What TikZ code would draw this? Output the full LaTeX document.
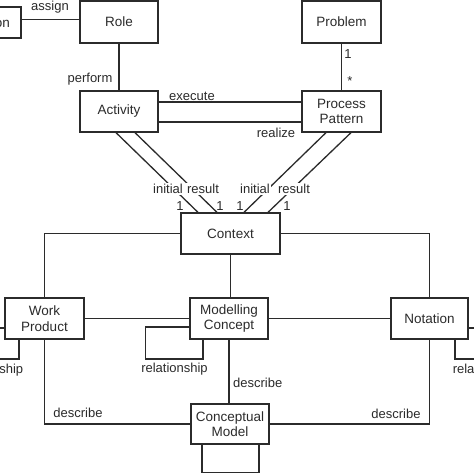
\documentclass[tikz,border=0pt]{standalone}
\usepackage{fontspec}
\setmainfont{Liberation Sans}
\definecolor{ink}{HTML}{2B2B2B}
\begin{document}
\begin{tikzpicture}[x=1pt,y=-1pt,
  box/.style={draw=ink, line width=1.3pt, rectangle, inner sep=0pt, align=center,
    font=\fontsize{13.5}{15.5}\selectfont, text=ink},
  lbl/.style={inner sep=1pt, font=\fontsize{13}{15}\selectfont, text=ink},
  cut/.style={lbl, fill=white},
  conn/.style={draw=ink, line width=1.3pt}]
\useasboundingbox (0,0) rectangle (474,474);
\clip (0,0) rectangle (474,474);
\fill[white] (0,0) rectangle (474,474);

% boxes
\node[box, minimum width=65pt, minimum height=31pt] (pers) at (-11.5,22.5) {Person};
\node[box, minimum width=78pt, minimum height=42pt] (role) at (119,22) {Role};
\node[box, minimum width=79pt, minimum height=42pt] (prob) at (341.5,22) {Problem};
\node[box, minimum width=78pt, minimum height=41pt] (act) at (119,111.5) {Activity};
\node[box, minimum width=79pt, minimum height=41pt] (pp) at (341.5,111.5) {Process\\Pattern};
\node[box, minimum width=99pt, minimum height=41pt] (ctx) at (230.5,233.5) {Context};
\node[box, minimum width=79pt, minimum height=41pt] (wp) at (44.5,318.5) {Work\\Product};
\node[box, minimum width=78pt, minimum height=41pt] (mc) at (229,318.5) {Modelling\\Concept};
\node[box, minimum width=77pt, minimum height=41pt] (nt) at (429.5,318.5) {Notation};
\node[box, minimum width=78pt, minimum height=40pt] (cm) at (230,424) {Conceptual\\Model};

% connectors
\draw[conn] ([yshift=3pt]pers.east) -- ([yshift=3pt]pers.east -| role.west);
\draw[conn] (role) -- (act);
\draw[conn] (prob) -- (pp);
\draw[conn] ([yshift=9.5pt]act.east) -- ([yshift=9.5pt]pp.west);
\draw[conn] ([yshift=-10.5pt]act.east) -- ([yshift=-10.5pt]pp.west);
\draw[conn] ([xshift=-3pt]act.south) -- ([xshift=-32.5pt]ctx.north);
\draw[conn] ([xshift=16pt]act.south) -- ([xshift=-13.5pt]ctx.north);
\draw[conn] ([xshift=-15.5pt]pp.south) -- ([xshift=13.5pt]ctx.north);
\draw[conn] ([xshift=9.5pt]pp.south) -- ([xshift=37.5pt]ctx.north);
\draw[conn] (ctx.west) -| (wp.north);
\draw[conn] (ctx.east) -| (nt.north);
\draw[conn] (ctx.south) -- (ctx.south |- mc.north);
\draw[conn] (wp.east) -- (mc.west);
\draw[conn] (mc.east) -- (nt.west);
\draw[conn] (mc.south) -- (mc.south |- cm.north);
\draw[conn] (wp.south) |- (cm.west);
\draw[conn] (nt.south) |- (cm.east);
% self loops
\draw[conn] ([yshift=-8.5pt]mc.west) -- ++(-44,0) -- ++(0,32) -| ([xshift=-26pt]mc.south);
\draw[conn] ([yshift=-9.5pt]wp.west) -- ++(-44,0) -- ++(0,31) -| ([xshift=-25.5pt]wp.south);
\draw[conn] ([yshift=-9.5pt]nt.east) -- ++(44,0) -- ++(0,31) -| ([xshift=25.5pt]nt.south);
\draw[conn] ([xshift=-28pt]cm.south) -- ++(0,28) -| ([xshift=29pt]cm.south);

% labels
\node[lbl] (l1) at (50,7) {assign};
\node[lbl] (l2) at (90,79) {perform};
\node[lbl] (l3) at (192,96) {execute};
\node[lbl] (l4) at (276,133) {realize};
\node[lbl] (l5) at (348,54) {1};
\node[lbl] (l6) at (350,81) {*};
\node[cut] (l7) at (168,189) {initial};
\node[cut] (l8) at (203,189) {result};
\node[cut] (l9) at (255,189) {initial};
\node[cut] (l10) at (294,189) {result};
\node[lbl] (l11) at (180,206) {1};
\node[lbl] (l12) at (220,206) {1};
\node[lbl] (l13) at (240,206) {1};
\node[lbl] (l14) at (287,206) {1};
\node[lbl] (l15) at (174.5,369) {relationship};
\node[lbl] (l16) at (-10,370) {relationship};
\node[lbl] (l17) at (486,370) {relationship};
\node[lbl, anchor=west] (l18) at (232,383) {describe};
\node[lbl] (l19) at (78,413) {describe};
\node[lbl] (l20) at (396,414) {describe};
\end{tikzpicture}
\end{document}
